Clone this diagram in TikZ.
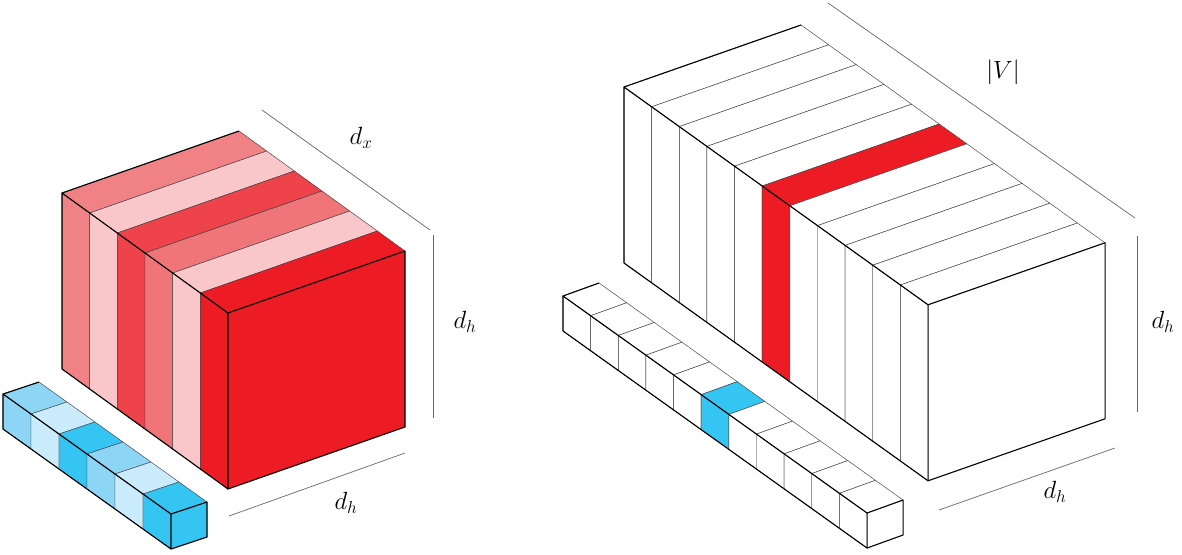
\documentclass[tikz,border=0pt]{standalone}
\usetikzlibrary{calc}
\definecolor{rA}{HTML}{F08185}
\definecolor{rB}{HTML}{F9C6C9}
\definecolor{rC}{HTML}{EE434B}
\definecolor{rD}{HTML}{F07579}
\definecolor{rF}{HTML}{ED1C24}
\definecolor{bA}{HTML}{8DD5F5}
\definecolor{bB}{HTML}{C9EBFB}
\definecolor{bC}{HTML}{35C5F2}
\tikzset{
  facet/.style={draw=black!75, line width=0.45pt},
  edge/.style={draw=black, line width=1.1pt, line join=round},
  dimline/.style={draw=black!60, line width=0.7pt},
  lbl/.style={font=\fontsize{27}{30}\selectfont},
}
% #1 origin, #2 depth step, #3 width, #4 height, #5 list k/color, #6 n, #7 front colour
\newcommand{\myblock}[7]{%
  \foreach \k/\c in {#5}{%
    \coordinate (p) at ($#1+\k*#2$);
    \coordinate (q) at ($#1+\k*#2+#2$);
    \filldraw[fill=\c, facet] (p) -- (q) -- ($(q)+#4$) -- ($(p)+#4$) -- cycle;
    \filldraw[fill=\c, facet] (p) -- ($(p)+#3$) -- ($(q)+#3$) -- (q) -- cycle;
  }
  \coordinate (f) at ($#1+#6*#2$);
  \filldraw[fill=#7, edge] (f) -- ($(f)+#3$) -- ($(f)+#3+#4$) -- ($(f)+#4$) -- cycle;
  \draw[edge] (f) -- #1 -- ($#1+#4$) -- ($(f)+#4$);
  \draw[edge] #1 -- ($#1+#3$);
}
\begin{document}
\begin{tikzpicture}[x=1pt,y=-1pt]
\useasboundingbox (0,0) rectangle (1182,554);
% left cube
\myblock{(62,193)}{(27.67,20)}{(177,-62)}{(0,176)}{0/rA,1/rB,2/rC,3/rD,4/rB,5/rF}{6}{rF}
% left bar
\myblock{(3,394)}{(28,20)}{(36,-12)}{(0,35)}{0/bA,1/bB,2/bC,3/bA,4/bB,5/bC}{6}{bC}
% right cube
\myblock{(624,87)}{(27.64,19.8)}{(177,-62)}{(0,176)}{0/white,1/white,2/white,3/white,4/white,5/rF,6/white,7/white,8/white,9/white,10/white}{11}{white}
% right bar
\myblock{(563,296)}{(27.64,19.73)}{(36,-13)}{(0,35)}{0/white,1/white,2/white,3/white,4/white,5/bC,6/white,7/white,8/white,9/white,10/white}{11}{white}
% dimension lines left
\coordinate (l1a) at (262,110); \coordinate (l1b) at (430,230);
\coordinate (l2a) at (433,235); \coordinate (l2b) at (433,418);
\coordinate (l3a) at (229,516); \coordinate (l3b) at (405,453);
\draw[dimline] (l1a) -- (l1b);
\draw[dimline] (l2a) -- (l2b);
\draw[dimline] (l3a) -- (l3b);
\node[lbl] (dx) at (361,138) {$d_x$};
\node[lbl] (dh1) at (465,322) {$d_h$};
\node[lbl] (dh2) at (346,503) {$d_h$};
% dimension lines right
\coordinate (r1a) at (828,3); \coordinate (r1b) at (1135,218);
\coordinate (r2a) at (1137,236); \coordinate (r2b) at (1137,412);
\coordinate (r3a) at (939,510); \coordinate (r3b) at (1115,448);
\draw[dimline] (r1a) -- (r1b);
\draw[dimline] (r2a) -- (r2b);
\draw[dimline] (r3a) -- (r3b);
\node[lbl] (V) at (1003,72) {$|V|$};
\node[lbl] (dh3) at (1163,322) {$d_h$};
\node[lbl] (dh4) at (1055,492) {$d_h$};
\end{tikzpicture}
\end{document}
